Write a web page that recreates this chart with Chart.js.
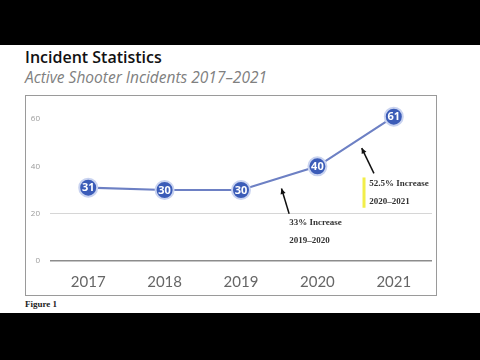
<!DOCTYPE html>
<html><head><meta charset="utf-8">
<script src="https://cdn.jsdelivr.net/npm/chart.js@4"></script>
<style>
html,body{margin:0;padding:0;background:#000;width:480px;height:360px;overflow:hidden;}
#white{position:absolute;left:0;top:45px;width:480px;height:268px;background:#fff;}
#t1{position:absolute;left:25px;top:46px;font:600 16px "Open Sans",sans-serif;color:#111;}
#t2{position:absolute;left:25px;top:66px;font:italic 15.5px "Open Sans",sans-serif;color:#808080;}
#box{position:absolute;left:25px;top:95px;width:410px;height:199px;border:1.5px solid #9a9a9a;}
#fig{position:absolute;left:25px;top:299px;font:bold 9px "Liberation Serif",serif;color:#222;}
canvas{display:block;}
</style></head>
<body>
<div id="white"></div>
<div id="t1">Incident Statistics</div>
<div id="t2">Active Shooter Incidents 2017–2021</div>
<div id="box"><canvas id="c" width="410" height="199"></canvas></div>
<div id="fig">Figure 1</div>
<script>
const years = ["2017","2018","2019","2020","2021"];
const incidents = [31, 30, 30, 40, 61];
const yTicks = [0, 20, 40, 60];
const notes = [
  {lines:["33% Increase","2019–2020"], arrowFrom:[2.63,20.0], arrowTo:[2.53,30.6], text:[2.63,16.2], gap:7.7},
  {lines:["52.5% Increase","2020–2021"], arrowFrom:[3.74,37.0], arrowTo:[3.58,47.7], text:[3.68,32.8], gap:7.7, bar:[3.61,35.3,22.5]}
];

const annot = {
  id:'annot',
  afterDatasetsDraw(chart){
    const ctx = chart.ctx, xs = chart.scales.x, ys = chart.scales.y;
    const X = v => xs.getPixelForValue(v), Y = v => ys.getPixelForValue(v);
    ctx.save();
    notes.forEach(n=>{
      const x1=X(n.arrowFrom[0]), y1=Y(n.arrowFrom[1]), x2=X(n.arrowTo[0]), y2=Y(n.arrowTo[1]);
      ctx.strokeStyle='#111'; ctx.fillStyle='#111'; ctx.lineWidth=1.5;
      ctx.beginPath(); ctx.moveTo(x1,y1); ctx.lineTo(x2,y2); ctx.stroke();
      const a=Math.atan2(y2-y1,x2-x1), L=6;
      ctx.beginPath(); ctx.moveTo(x2,y2);
      ctx.lineTo(x2-L*Math.cos(a-0.45), y2-L*Math.sin(a-0.45));
      ctx.lineTo(x2-L*Math.cos(a+0.45), y2-L*Math.sin(a+0.45));
      ctx.closePath(); ctx.fill();
      if(n.bar){
        ctx.fillStyle='#f2ee4a';
        const bx=X(n.bar[0]), by1=Y(n.bar[1]), by2=Y(n.bar[2]);
        ctx.fillRect(bx-1.5, by1, 3, by2-by1);
      }
      ctx.fillStyle='#333'; ctx.font='bold 9px "Liberation Serif", serif';
      ctx.textAlign='left'; ctx.textBaseline='middle';
      n.lines.forEach((t,i)=>ctx.fillText(t, X(n.text[0]), Y(n.text[1]-i*n.gap)));
    });
    const meta = chart.getDatasetMeta(0);
    ctx.fillStyle='#fff'; ctx.font='bold 11px "Open Sans", sans-serif';
    ctx.textAlign='center'; ctx.textBaseline='middle';
    meta.data.forEach((p,i)=>ctx.fillText(String(incidents[i]), p.x, p.y+0.5));
    ctx.restore();
  }
};

new Chart(document.getElementById('c'), {
  type:'line',
  data:{labels:years, datasets:[{
    data:incidents, borderColor:'#6d80c4', borderWidth:2.2, tension:0, clip:false,
    pointRadius:9, pointBackgroundColor:'#3b5cb8', pointBorderColor:'#c9d3f0', pointBorderWidth:2
  }]},
  options:{
    responsive:false, animation:false,
    layout:{autoPadding:false, padding:{top:23,right:4,bottom:0,left:0}},
    plugins:{legend:{display:false}, tooltip:{enabled:false}},
    scales:{
      x:{offset:true, grid:{display:false}, border:{display:false},
         ticks:{color:'#666', font:{family:'Lato, "Open Sans", sans-serif', size:15}, padding:4}},
      y:{min:0, max:60, border:{display:false},
         afterBuildTicks(s){ s.ticks = yTicks.map(v=>({value:v})); },
         afterFit(s){ s.width = 24; },
         grid:{drawTicks:false, color:c=>c.tick.value===0?'#8c8c8c':(c.tick.value===20?'#d6d6d6':'rgba(0,0,0,0)'), lineWidth:c=>c.tick.value===0?1.5:1},
         ticks:{color:'#9a9a9a', font:{size:8, family:'"Open Sans", sans-serif'}, padding:10}}
    }
  },
  plugins:[annot]
});
</script>
</body></html>
